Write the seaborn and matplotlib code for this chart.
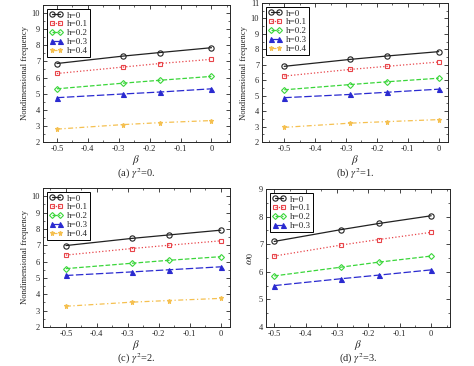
import numpy as np
import pandas as pd
import matplotlib
matplotlib.use("Agg")
import matplotlib.pyplot as plt
from matplotlib.ticker import MultipleLocator
import seaborn as sb

sb.set_style("ticks")
plt.rcParams['font.family'] = ['Liberation Serif', 'DejaVu Serif']
plt.rcParams['mathtext.fontset'] = 'stix'

beta = [-0.5, -0.286, -0.167, 0.0]
h_labels = ['h=0', 'h=0.1', 'h=0.2', 'h=0.3', 'h=0.4']

# panel (a) gamma^2 = 0
a_h0 = [6.87, 7.33, 7.55, 7.85]
a_h1 = [6.25, 6.65, 6.87, 7.13]
a_h2 = [5.30, 5.65, 5.83, 6.07]
a_h3 = [4.75, 4.98, 5.10, 5.30]
a_h4 = [2.80, 3.08, 3.20, 3.33]
# panel (b) gamma^2 = 1
b_h0 = [6.90, 7.35, 7.57, 7.85]
b_h1 = [6.27, 6.70, 6.90, 7.18]
b_h2 = [5.38, 5.72, 5.90, 6.13]
b_h3 = [4.87, 5.08, 5.22, 5.42]
b_h4 = [2.95, 3.22, 3.32, 3.45]
# panel (c) gamma^2 = 2
c_h0 = [6.98, 7.42, 7.63, 7.92]
c_h1 = [6.40, 6.80, 7.00, 7.27]
c_h2 = [5.57, 5.90, 6.08, 6.30]
c_h3 = [5.15, 5.37, 5.50, 5.68]
c_h4 = [3.27, 3.52, 3.62, 3.75]
# panel (d) gamma^2 = 3
d_h0 = [7.10, 7.53, 7.75, 8.03]
d_h1 = [6.57, 6.97, 7.17, 7.43]
d_h2 = [5.85, 6.17, 6.35, 6.57]
d_h3 = [5.50, 5.75, 5.88, 6.07]

colors = ['#222222', '#e8454a', '#3ad63a', '#2a2ad0', '#f5c050']
markers = ['o', 's', 'D', '^', '*']
dashes = ['-', ':', '--', (0, (6, 2)), (0, (4, 2, 1, 2))]
mfaces = ['none', 'none', 'none', '#2a2ad0', '#f5c050']
msizes = [3.8, 3.4, 3.0, 3.6, 3.6]

W, H = 474, 366
fig = plt.figure(figsize=(W / 100, H / 100), dpi=100)

panels = [
    ([a_h0, a_h1, a_h2, a_h3, a_h4], (43, 5, 230, 142), (-0.545, 0.06), (2, 10.5), 'Nondimensional frequency', r'(a) $\gamma^2$=0.'),
    ([b_h0, b_h1, b_h2, b_h3, b_h4], (262, 3, 448, 142), (-0.572, 0.03), (2, 11), 'Nondimensional frequency', r'(b) $\gamma^2$=1.'),
    ([c_h0, c_h1, c_h2, c_h3, c_h4], (43, 188, 230, 327), (-0.574, 0.03), (2, 10.5), 'Nondimensional frequency', r'(c) $\gamma^2$=2.'),
    ([d_h0, d_h1, d_h2, d_h3], (266, 189, 450, 327), (-0.526, 0.06), (4, 9), r'$\omega_0$', r'(d) $\gamma^2$=3.'),
]

for series, (l, t, r, b), xl, yl, ylab, cap in panels:
    ax = fig.add_axes([l / W, 1 - b / H, (r - l) / W, (b - t) / H])
    for i, vals in enumerate(series):
        df = pd.DataFrame({'beta': beta, 'freq': vals})
        sb.lineplot(data=df, x='beta', y='freq', ax=ax, color=colors[i], linestyle=dashes[i],
                    linewidth=0.9, marker=markers[i], markersize=msizes[i],
                    markerfacecolor=mfaces[i], markeredgecolor=colors[i], markeredgewidth=0.8,
                    label=h_labels[i])
    ax.set_xlim(*xl)
    ax.set_ylim(*yl)
    ax.xaxis.set_minor_locator(MultipleLocator(0.05))
    ax.yaxis.set_major_locator(MultipleLocator(1))
    ax.yaxis.set_minor_locator(MultipleLocator(0.5))
    ax.set_xticks([-0.5, -0.4, -0.3, -0.2, -0.1, 0])
    ax.set_xticklabels(['-0.5', '-0.4', '-0.3', '-0.2', '-0.1', '0'])
    ax.tick_params(which='both', direction='in', top=True, right=True, labelsize=6, pad=2)
    ax.tick_params(which='major', length=3, width=0.6)
    ax.tick_params(which='minor', length=1.5, width=0.5)
    for s in ax.spines.values():
        s.set_linewidth(0.7)
    ax.set_xlabel(r'$\beta$', fontsize=8, labelpad=0)
    ax.set_ylabel(ylab, fontsize=8 if ylab.startswith('$') else 6.2, labelpad=2)
    leg = ax.legend(loc='upper left', fontsize=6.5, numpoints=2, handlelength=1.5,
                    handletextpad=0.45, labelspacing=0.05, borderpad=0.25,
                    borderaxespad=0.45, fancybox=False, framealpha=1)
    leg.get_frame().set_edgecolor('black')
    leg.get_frame().set_linewidth(0.7)
    fig.text((l + r) / 2 / W, 1 - (b + 32) / H, cap, ha='center', va='center', fontsize=7.5)

fig.savefig('out.png', dpi=100)
